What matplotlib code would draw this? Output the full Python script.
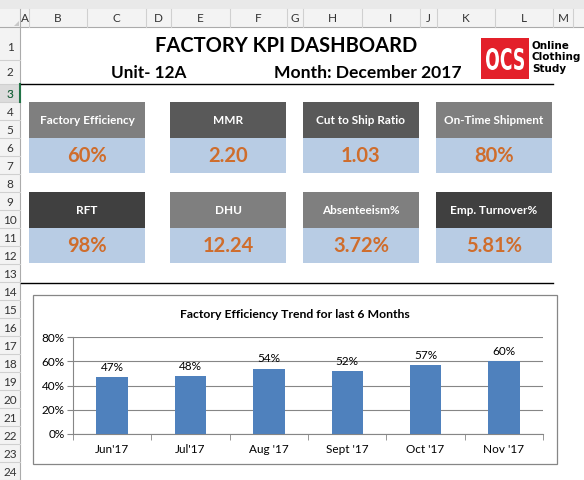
import matplotlib
matplotlib.use("Agg")
import matplotlib.pyplot as plt
from matplotlib.patches import Rectangle, PathPatch
from matplotlib.textpath import TextPath
from matplotlib.font_manager import FontProperties
from matplotlib.transforms import Affine2D
from matplotlib.ticker import FuncFormatter, FixedLocator

plt.rcParams['font.family'] = ['Lato', 'DejaVu Sans']

# ---- data ----
kpi_names = ['Factory Efficiency', 'MMR', 'Cut to Ship Ratio', 'On-Time Shipment',
             'RFT', 'DHU', 'Absenteeism%', 'Emp. Turnover%']
kpi_values = ['60%', '2.20', '1.03', '80%', '98%', '12.24', '3.72%', '5.81%']
kpi_head_colors = ['#7f7f7f', '#595959', '#595959', '#7f7f7f',
                   '#404040', '#7f7f7f', '#7f7f7f', '#404040']
months = ["Jun'17", "Jul'17", "Aug '17", "Sept '17", "Oct '17", "Nov '17"]
efficiency = [47, 48, 54, 52, 57, 60]

col_letters = ['A', 'B', 'C', 'D', 'E', 'F', 'G', 'H', 'I', 'J', 'K', 'L', 'M']
col_edges = [20, 29, 87, 146, 171, 230, 287, 303, 362, 420, 437, 495, 553, 573]
row_edges = [27, 60, 84] + [84 + 18 * i for i in range(1, 23)]

W, H = 584, 480
fig = plt.figure(figsize=(W / 100, H / 100), dpi=100)
bg = fig.add_axes([0, 0, 1, 1])
bg.set_xlim(0, W)
bg.set_ylim(H, 0)
bg.axis('off')

# sheet headers
hdr_fill = '#f3f3f3'
hdr_line = '#d0d0d0'
bg.add_patch(Rectangle((0, 0), W, 9, color='#e9e9e9', lw=0))
bg.add_patch(Rectangle((0, 9), W, 18, color=hdr_fill, lw=0))
bg.add_patch(Rectangle((0, 27), 20, H - 27, color=hdr_fill, lw=0))
bg.plot([0, W], [27, 27], color='#ababab', lw=0.8)
bg.plot([20, 20], [9, H], color='#ababab', lw=0.8)
for x in col_edges[1:]:
    bg.plot([x, x], [9, 27], color=hdr_line, lw=0.8)
for i, c in enumerate(col_letters):
    bg.text((col_edges[i] + col_edges[i + 1]) / 2, 18, c, ha='center', va='center',
            fontsize=8.5, color='#333333')
for y in row_edges[1:]:
    bg.plot([0, 20], [y, y], color=hdr_line, lw=0.8)
for i in range(len(row_edges) - 1):
    yc = (row_edges[i] + row_edges[i + 1]) / 2 + (4 if i == 0 else 1)
    bg.text(10, yc, str(i + 1), ha='center', va='center', fontsize=8.5, color='#333333')
# active row marker (row 3)
bg.add_patch(Rectangle((0, 84), 20, 18, color='#dcdcdc', lw=0))
bg.text(10, 94, '3', ha='center', va='center', fontsize=8.5, color='#217346')
bg.plot([20, 20], [84, 102], color='#217346', lw=1.5)
bg.fill([14, 19, 19], [26, 26, 21], color='#c8c8c8', lw=0)

# titles
bg.text(286, 46, 'FACTORY KPI DASHBOARD', ha='center', va='center',
        fontsize=14.5, fontweight='bold', color='black')
bg.text(111, 73, 'Unit- 12A', ha='left', va='center', fontsize=12.3,
        fontweight='bold', color='black')
bg.text(274, 73, 'Month: December 2017', ha='left', va='center', fontsize=12.6,
        fontweight='bold', color='black')
bg.plot([21, 553], [84, 84], color='black', lw=1.0)
bg.plot([21, 553], [283, 283], color='black', lw=1.0)

# logo: condensed "OCS" squeezed into the red box
bg.add_patch(Rectangle((481, 38), 48, 41, color='#e3202a', lw=0))
tp = TextPath((0, 0), 'OCS', size=1, prop=FontProperties(family='DejaVu Sans', weight='bold'))
ext = tp.get_extents()
sx = 38 / ext.width
sy = 22 / ext.height
tr = Affine2D().translate(-ext.x0, -ext.y0).scale(sx, -sy).translate(486, 70)
bg.add_patch(PathPatch(tr.transform_path(tp), color='white', lw=0))
for j, w in enumerate(['Online', 'Clothing', 'Study']):
    bg.text(532, 46 + 11.5 * j, w, ha='left', va='center', fontsize=7.5,
            fontweight='bold', color='black', family='DejaVu Sans')

# KPI tiles
box_x = [29, 170, 303, 436]
box_y = [102, 192]
for k, (name, val, hc) in enumerate(zip(kpi_names, kpi_values, kpi_head_colors)):
    x0 = box_x[k % 4]
    y0 = box_y[k // 4]
    bg.add_patch(Rectangle((x0, y0), 116, 36, color=hc, lw=0))
    bg.add_patch(Rectangle((x0, y0 + 36), 116, 35, color='#b8cce4', lw=0))
    bg.text(x0 + 58, y0 + 19, name, ha='center', va='center', fontsize=8.5,
            fontweight='bold', color='white')
    bg.text(x0 + 58, y0 + 54, val, ha='center', va='center', fontsize=14.5,
            fontweight='bold', color='#cf6d2c')

# chart frame
bg.add_patch(Rectangle((33, 295), 524, 169, facecolor='white', edgecolor='#868686', lw=0.9))
bg.text(295, 314, 'Factory Efficiency Trend for last 6 Months', ha='center', va='center',
        fontsize=8.8, fontweight='bold', color='black')

ax = fig.add_axes([73 / W, (H - 434) / H, 470 / W, 97 / H])
ax.set_facecolor('none')
xs = list(range(len(months)))
bars = ax.bar(xs, efficiency, width=0.4, color='#4f81bd', zorder=3)
for x, v in zip(xs, efficiency):
    ax.annotate(f'{v}%', (x, v), xytext=(0, 3), textcoords='offset points',
                ha='center', va='bottom', fontsize=8.5, color='black')
ax.set_xlim(-0.5, len(months) - 0.5)
ax.set_ylim(0, 80)
ax.set_yticks([0, 20, 40, 60, 80])
ax.yaxis.set_major_formatter(FuncFormatter(lambda v, p: f'{v:.0f}%'))
ax.grid(axis='y', color='#868686', lw=0.8, zorder=0)
ax.set_xticks(xs)
ax.set_xticklabels(months)
ax.xaxis.set_minor_locator(FixedLocator([i - 0.5 for i in range(len(months) + 1)]))
ax.tick_params(axis='x', which='major', length=0, pad=7, labelsize=8.5)
ax.tick_params(axis='x', which='minor', length=4, color='#868686')
ax.tick_params(axis='y', length=4, color='#868686', labelsize=8.5, pad=2)
for s in ['top', 'right']:
    ax.spines[s].set_visible(False)
for s in ['left', 'bottom']:
    ax.spines[s].set_color('#868686')
    ax.spines[s].set_linewidth(0.8)

fig.savefig('out.png', dpi=100)
